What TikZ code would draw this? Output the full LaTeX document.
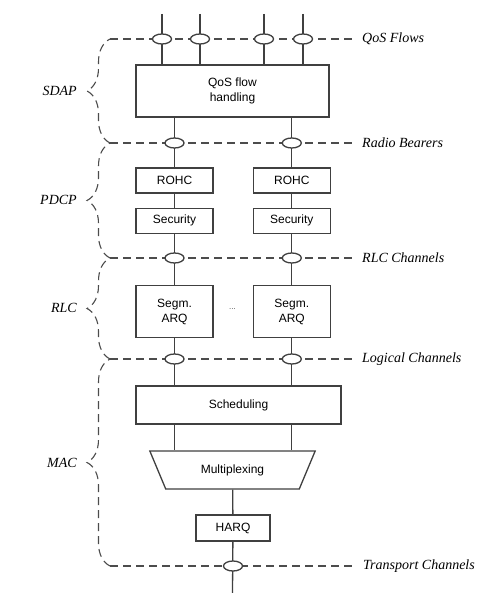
\documentclass[tikz,border=0pt]{standalone}
\usepackage{fontspec}
\setmainfont{Liberation Serif}
\setsansfont{Liberation Sans}
\usetikzlibrary{positioning,shapes.geometric,decorations.pathreplacing}

\begin{document}
\begin{tikzpicture}[x=1pt,y=-1pt,node distance=14pt,
	conn/.style={draw=black!75,line width=1.3pt},
	chan/.style={draw=black!70,line width=1.1pt,dash pattern=on 8pt off 5pt},
	layer brace/.style={chan,decorate,decoration={brace,amplitude=23pt}}]
	\tikzstyle{box}=[rectangle,draw=black!75,line width=1.3pt,fill=white,inner sep=0pt,
	                 align=center,font=\sffamily\fontsize{12}{15}\selectfont]
	\tikzstyle{sap}=[ellipse,draw=black!75,line width=1.3pt,fill=white,inner sep=0pt,
	                 minimum width=19pt,minimum height=10pt]
	\tikzstyle{chanlabel}=[anchor=west,inner sep=0pt,font=\itshape\fontsize{14}{16}\selectfont]
	\tikzstyle{layer}=[anchor=east,inner sep=0pt,font=\itshape\fontsize{14}{16}\selectfont]

	\useasboundingbox (0,0) rectangle (486,593);

	  \node[box,minimum width=193pt,minimum height=52pt] (qos) at (232.5,91) {QoS flow\\handling};
	  \node[box,minimum width=77pt,minimum height=25pt]  (rohcA) at (174.5,180.5) {ROHC};
	  \node[box,minimum width=77pt,minimum height=25pt]  (rohcB) [right=39pt of rohcA] {ROHC};
	  \node[box,minimum width=77pt,minimum height=25pt]  (secA) [below=of rohcA] {Security};
	  \node[box,minimum width=77pt,minimum height=25pt]  (secB) [below=of rohcB] {Security};
	  \node[box,minimum width=77pt,minimum height=52pt]  (segA) [below=51pt of secA] {Segm.\\ARQ};
	  \node[box,minimum width=77pt,minimum height=52pt]  (segB) [below=51pt of secB] {Segm.\\ARQ};
	  \node[font=\sffamily\fontsize{8}{8}\selectfont,text=black!70] (dots) at (232.5,309) {...};
	  \node[box,minimum width=205pt,minimum height=38pt] (sched) at (238.5,405) {Scheduling};
	  \node[box,trapezium,shape border rotate=180,trapezium angle=56,trapezium stretches=true,
	        minimum width=166pt,minimum height=38pt] (mux) at (232.5,470) {Multiplexing};
	  \node[box,minimum width=74pt,minimum height=26pt]  (harq) at (233,528) {HARQ};

	  \node[chanlabel] (qfl) at (362,39)  {QoS Flows};
	  \node[chanlabel] (rbl) at (362,143) {Radio Bearers};
	  \node[chanlabel] (rcl) at (362,258) {RLC Channels};
	  \node[chanlabel] (lcl) at (362,359) {Logical Channels};
	  \node[chanlabel] (tcl) at (363,566) {Transport Channels};

	  \coordinate (qfL) at (110,39);
	  \coordinate (rbL) at (110,143);
	  \coordinate (rcL) at (110,258);
	  \coordinate (lcL) at (110,359);
	  \coordinate (tcL) at (110,566);

	  \path[chan] (qfL) edge ([xshift=-9pt]qfl.west)
	              (rbL) edge ([xshift=-9pt]rbl.west)
	              (rcL) edge ([xshift=-9pt]rcl.west)
	              (lcL) edge ([xshift=-9pt]lcl.west)
	              (tcL) edge ([xshift=-9pt]tcl.west);

	  \draw[layer brace] (rbL) -- (qfL);
	  \draw[layer brace] (rcL) -- (rbL);
	  \draw[layer brace] (lcL) -- (rcL);
	  \draw[layer brace] (tcL) -- (lcL);

	  \node[layer] (sdap) at (77,91)  {SDAP};
	  \node[layer] (pdcp) at (77,200) {PDCP};
	  \node[layer] (rlc)  at (77,308) {RLC};
	  \node[layer] (mac)  at (77,463) {MAC};

	  \coordinate (t1) at (162,14);
	  \coordinate (t2) at (200,14);
	  \coordinate (t3) at (264,14);
	  \coordinate (t4) at (303,14);
	  \coordinate (bot) at (232.5,593);

	  \path[conn] (t1) edge (t1 |- qos.north)
	              (t2) edge (t2 |- qos.north)
	              (t3) edge (t3 |- qos.north)
	              (t4) edge (t4 |- qos.north)
	              (qos.south -| rohcA) edge (rohcA)
	              (qos.south -| rohcB) edge (rohcB)
	              (rohcA) edge (secA)
	              (rohcB) edge (secB)
	              (secA) edge (segA)
	              (secB) edge (segB)
	              (segA) edge (segA |- sched.north)
	              (segB) edge (segB |- sched.north)
	              (sched.south -| segA) edge (segA |- mux.north)
	              (sched.south -| segB) edge (segB |- mux.north)
	              (mux) edge (harq)
	              (harq) edge (bot);

	  \node[sap] (qf1) at (t1 |- qfL) {};
	  \node[sap] (qf2) at (t2 |- qfL) {};
	  \node[sap] (qf3) at (t3 |- qfL) {};
	  \node[sap] (qf4) at (t4 |- qfL) {};
	  \node[sap] (rb1) at (rohcA |- rbL) {};
	  \node[sap] (rb2) at (rohcB |- rbL) {};
	  \node[sap] (rc1) at (rohcA |- rcL) {};
	  \node[sap] (rc2) at (rohcB |- rcL) {};
	  \node[sap] (lc1) at (rohcA |- lcL) {};
	  \node[sap] (lc2) at (rohcB |- lcL) {};
	  \node[sap] (tc)  at (harq |- tcL) {};
\end{tikzpicture}
\end{document}
